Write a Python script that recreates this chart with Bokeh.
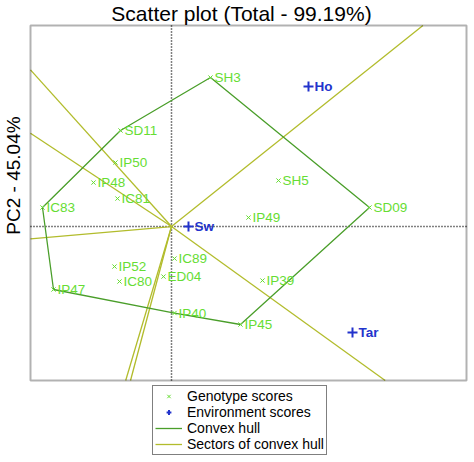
import math
from bokeh.plotting import figure
from bokeh.models import Label, Legend, LegendItem, ColumnDataSource, BoxAnnotation
from bokeh.core.properties import value
from bokeh.embed import file_html
from bokeh.resources import INLINE

# ---- data ----
geno_names = ["SH3", "SD11", "IP50", "IP48", "IC81", "IC83", "SH5", "SD09", "IP49",
              "IC89", "IP52", "IC80", "ED04", "IP47", "IP40", "IP39", "IP45"]
geno_pc1 = [3.9, -5.1, -5.6, -7.8, -5.4, -12.9, 10.7, 19.8, 7.7,
            0.3, -5.7, -5.2, -0.8, -11.8, 0.3, 9.1, 6.9]
geno_pc2 = [18.43, 11.88, 7.92, 5.44, 3.46, 2.35, 5.69, 2.35, 1.11,
            -3.96, -4.95, -6.80, -6.19, -7.79, -10.70, -6.68, -12.12]

env_names = ["Ho", "Sw", "Tar"]
env_pc1 = [13.7, 1.7, 18.1]
env_pc2 = [17.32, 0.0, -13.11]

hull_order = ["SH3", "SD09", "IP45", "IP40", "IP47", "IC83", "SD11"]

# plotting box (axis limits of the biplot)
box_x = [-14.1, 29.5]
box_y = [-19.05, 24.86]

title_text = "Scatter plot (Total - 99.19%)"
xlabel_text = "PC1 - 54.15%"
ylabel_text = "PC2 - 45.04%"
legend_labels = ["Genotype scores", "Environment scores", "Convex hull", "Sectors of convex hull"]

FONT = "Liberation Sans"
GENO_COL = "#66dd33"
HULL_COL = "#4a9e2a"
SECT_COL = "#b2bc2c"
ENV_COL = "#2233cc"

W, H = 474, 462
p = figure(width=W, height=H, x_range=(-17.1, 30.3), y_range=(-29.19, 27.96),
           output_backend="svg", toolbar_location=None, title=None,
           min_border=0)
p.axis.visible = False
p.grid.visible = False
p.outline_line_color = None
p.background_fill_color = "white"
p.border_fill_color = "white"

xmin, xmax = box_x
ymin, ymax = box_y

# origin cross (dotted)
p.segment(x0=[0, xmin], y0=[ymin, 0], x1=[0, xmax], y1=[ymax, 0],
          line_color="black", line_dash="1 2", line_width=1.5)

# convex hull
idx = {n: i for i, n in enumerate(geno_names)}
hx = [geno_pc1[idx[n]] for n in hull_order] + [geno_pc1[idx[hull_order[0]]]]
hy = [geno_pc2[idx[n]] for n in hull_order] + [geno_pc2[idx[hull_order[0]]]]

# sectors: rays from origin perpendicular to each hull edge, clipped to the box
sx1, sy1 = [], []
for i in range(len(hull_order)):
    x1, y1 = hx[i], hy[i]
    x2, y2 = hx[i + 1], hy[i + 1]
    dx, dy = x2 - x1, y2 - y1
    nx, ny = dy, -dx
    if nx * x1 + ny * y1 < 0:
        nx, ny = -nx, -ny
    ts = []
    if nx > 0:
        ts.append(xmax / nx)
    elif nx < 0:
        ts.append(xmin / nx)
    if ny > 0:
        ts.append(ymax / ny)
    elif ny < 0:
        ts.append(ymin / ny)
    t = min(ts)
    sx1.append(nx * t)
    sy1.append(ny * t)
r_sect = p.segment(x0=[0] * len(sx1), y0=[0] * len(sy1), x1=sx1, y1=sy1,
                   line_color=SECT_COL, line_width=1.3)
r_hull = p.line(hx, hy, line_color=HULL_COL, line_width=1.3)

gsrc = ColumnDataSource(dict(x=geno_pc1, y=geno_pc2, name=geno_names))
r_geno = p.scatter("x", "y", source=gsrc, marker="x", size=6, line_color=GENO_COL, line_width=1)
p.text("x", "y", text="name", source=gsrc, x_offset=4, text_baseline="middle", text_align="left",
       text_color=GENO_COL, text_font=value(FONT), text_font_size="13.5px")

esrc = ColumnDataSource(dict(x=env_pc1, y=env_pc2, name=env_names))
r_env = p.scatter("x", "y", source=esrc, marker="cross", size=10, line_color=ENV_COL, line_width=2)
p.text("x", "y", text="name", source=esrc, x_offset=6, text_baseline="middle", text_align="left",
       text_color=ENV_COL, text_font=value(FONT), text_font_size="13.5px", text_font_style="bold")

# frame box
p.add_layout(BoxAnnotation(left=xmin, right=xmax, bottom=ymin, top=ymax,
                           fill_alpha=0, fill_color=None, line_color="black", line_width=2))

# titles / axis labels (screen units from canvas bottom-left)
p.add_layout(Label(x=241, y=H - 13, x_units="screen", y_units="screen", text=title_text,
                   text_align="center", text_baseline="middle", text_font=FONT,
                   text_font_size="21px", text_color="black"))
p.add_layout(Label(x=237, y=H - 391, x_units="screen", y_units="screen", text=xlabel_text,
                   text_align="center", text_baseline="middle", text_font=FONT,
                   text_font_size="21px", text_color="black"))
p.add_layout(Label(x=13, y=H - 175, x_units="screen", y_units="screen", text=ylabel_text,
                   angle=math.pi / 2, text_align="center", text_baseline="middle", text_font=FONT,
                   text_font_size="19px", text_color="black"))

legend = Legend(items=[LegendItem(label=legend_labels[0], renderers=[r_geno]),
                       LegendItem(label=legend_labels[1], renderers=[r_env]),
                       LegendItem(label=legend_labels[2], renderers=[r_hull]),
                       LegendItem(label=legend_labels[3], renderers=[r_sect])],
                location=(152, H - 455), orientation="vertical",
                glyph_width=27, glyph_height=12, label_height=12, label_standoff=5,
                spacing=0, padding=2, margin=0,
                label_text_font=FONT, label_text_font_size="14px", label_text_color="black",
                label_text_line_height=0.9,
                border_line_color="black", border_line_width=1.5,
                background_fill_color="white", background_fill_alpha=1)
p.add_layout(legend, "center")

open("out.html", "w").write(file_html(p, INLINE))
